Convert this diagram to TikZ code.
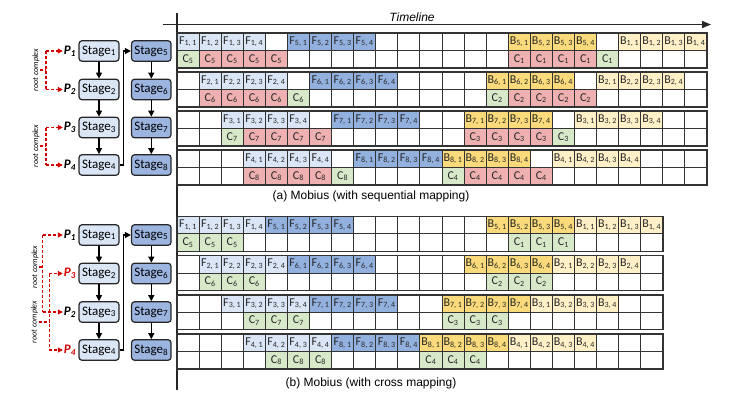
\documentclass[tikz,border=0pt]{standalone}
\usepackage{fontspec}
\setmainfont{Carlito}
\newfontfamily\arialf{Liberation Sans}
\usetikzlibrary{arrows.meta}
\definecolor{fl}{HTML}{DAE5F6}
\definecolor{fd}{HTML}{93B1DF}
\definecolor{bd}{HTML}{FADA7A}
\definecolor{bl}{HTML}{FFF0C8}
\definecolor{cr}{HTML}{EEB0B0}
\definecolor{cg}{HTML}{D7E9C9}
\definecolor{sl}{HTML}{DAE5F6}
\definecolor{sd}{HTML}{9BB4E0}
\definecolor{rc}{HTML}{D40000}
\definecolor{ln}{HTML}{333333}
\def\XO{177}
\def\W{22.08}
\def\H{17.4}
% F/B block of four cells: prefix, top y, start col, letter, k, colour
\newcommand\fblock[6]{%
  \foreach \j in {1,...,4}{%
    \pgfmathtruncatemacro\cc{#3+\j-1}%
    \node[cellbox, fill=#6] (#1F\cc) at ({\XO+\cc*\W},#2) {#4\textsubscript{#5, \j}};
  }}
% C cells: prefix, top y, first col, last col, k, colour
\newcommand\cblock[6]{%
  \foreach \cc in {#3,...,#4}{%
    \node[cellbox, fill=#6] (#1C\cc) at ({\XO+\cc*\W},{#2+\H}) {C\textsubscript{#5}};
  }}
% grid of one group: top y, number of columns, (columns - 1)
\newcommand\gridgroup[3]{%
  \foreach \cc in {1,...,#3}{%
    \draw[gridin] ({\XO+\cc*\W},#1) -- ++(0,{2*\H});
  }
  \draw[gridin] (\XO,{#1+\H}) -- ++({#2*\W},0);
  \draw[gridout] (\XO,#1) rectangle ({\XO+#2*\W},{#1+2*\H});
}
\begin{document}
\begin{tikzpicture}[x=1pt,y=-1pt,
  cellbox/.style={anchor=north west, minimum width=22.08pt, minimum height=17.4pt,
    inner sep=0pt, outer sep=0pt, font=\fontsize{12}{13}\selectfont, text=black!85},
  gridin/.style={draw=ln, line width=0.9pt},
  gridout/.style={draw=ln, line width=1.5pt},
  stagebox/.style={draw=black!85, line width=1.2pt, rounded corners=3pt,
    minimum width=40pt, minimum height=20.5pt, inner sep=0pt,
    font=\fontsize{13}{15}\selectfont},
  plab/.style={font=\fontsize{13}{15}\selectfont\bfseries\itshape, inner sep=1pt},
  rctext/.style={rotate=90, font=\fontsize{8}{9}\selectfont\itshape, inner sep=0.5pt},
  rcline/.style={draw=rc, line width=1.1pt, dash pattern=on 3pt off 2pt},
  rcarrow/.style={rcline, -{Triangle[length=5pt,width=5pt]}},
  sarrow/.style={draw=black, line width=1.1pt, -{Triangle[length=6pt,width=6pt]}},
  axisline/.style={draw=black!85, line width=1.3pt},
  capt/.style={font=\arialf\fontsize{12}{14}\selectfont}
]
\useasboundingbox (0,0) rectangle (750,399);
\fill[white] (0,0) rectangle (750,399);

% ---------- timeline axes ----------
\coordinate (tl0) at (163,24.5);
\coordinate (tl1) at (711,24.5);
\coordinate (ax0) at (177,13);
\coordinate (ax1) at (177,390);
\draw[axisline, -{Triangle[length=9pt,width=7pt]}] (tl0) -- (tl1);
\draw[axisline] (ax0) -- (ax1);
\node[font=\arialf\itshape\fontsize{12}{14}\selectfont] (tltext) at (412,17.5) {Timeline};

% ---------- panel (a) ----------
\fblock{a1}{33}{0}{F}{1}{fl}\fblock{a1}{33}{5}{F}{5}{fd}\fblock{a1}{33}{15}{B}{5}{bd}\fblock{a1}{33}{20}{B}{1}{bl}
\cblock{a1}{33}{0}{0}{5}{cg}\cblock{a1}{33}{1}{4}{5}{cr}\cblock{a1}{33}{15}{18}{1}{cr}\cblock{a1}{33}{19}{19}{1}{cg}
\fblock{a2}{72}{1}{F}{2}{fl}\fblock{a2}{72}{6}{F}{6}{fd}\fblock{a2}{72}{14}{B}{6}{bd}\fblock{a2}{72}{19}{B}{2}{bl}
\cblock{a2}{72}{1}{4}{6}{cr}\cblock{a2}{72}{5}{5}{6}{cg}\cblock{a2}{72}{14}{14}{2}{cg}\cblock{a2}{72}{15}{18}{2}{cr}
\fblock{a3}{111}{2}{F}{3}{fl}\fblock{a3}{111}{7}{F}{7}{fd}\fblock{a3}{111}{13}{B}{7}{bd}\fblock{a3}{111}{18}{B}{3}{bl}
\cblock{a3}{111}{2}{2}{7}{cg}\cblock{a3}{111}{3}{6}{7}{cr}\cblock{a3}{111}{13}{16}{3}{cr}\cblock{a3}{111}{17}{17}{3}{cg}
\fblock{a4}{150}{3}{F}{4}{fl}\fblock{a4}{150}{8}{F}{8}{fd}\fblock{a4}{150}{12}{B}{8}{bd}\fblock{a4}{150}{17}{B}{4}{bl}
\cblock{a4}{150}{3}{6}{8}{cr}\cblock{a4}{150}{7}{7}{8}{cg}\cblock{a4}{150}{12}{12}{4}{cg}\cblock{a4}{150}{13}{16}{4}{cr}
\gridgroup{33}{24}{23}
\gridgroup{72}{24}{23}
\gridgroup{111}{24}{23}
\gridgroup{150}{24}{23}
\node[capt] (capa) at (371,196) {(a) Mobius (with sequential mapping)};

% ---------- panel (b) ----------
\fblock{b1}{216.5}{0}{F}{1}{fl}\fblock{b1}{216.5}{4}{F}{5}{fd}\fblock{b1}{216.5}{14}{B}{5}{bd}\fblock{b1}{216.5}{18}{B}{1}{bl}
\cblock{b1}{216.5}{0}{2}{5}{cg}\cblock{b1}{216.5}{15}{17}{1}{cg}
\fblock{b2}{255.7}{1}{F}{2}{fl}\fblock{b2}{255.7}{5}{F}{6}{fd}\fblock{b2}{255.7}{13}{B}{6}{bd}\fblock{b2}{255.7}{17}{B}{2}{bl}
\cblock{b2}{255.7}{1}{3}{6}{cg}\cblock{b2}{255.7}{14}{16}{2}{cg}
\fblock{b3}{294.9}{2}{F}{3}{fl}\fblock{b3}{294.9}{6}{F}{7}{fd}\fblock{b3}{294.9}{12}{B}{7}{bd}\fblock{b3}{294.9}{16}{B}{3}{bl}
\cblock{b3}{294.9}{3}{5}{7}{cg}\cblock{b3}{294.9}{12}{14}{3}{cg}
\fblock{b4}{334.1}{3}{F}{4}{fl}\fblock{b4}{334.1}{7}{F}{8}{fd}\fblock{b4}{334.1}{11}{B}{8}{bd}\fblock{b4}{334.1}{15}{B}{4}{bl}
\cblock{b4}{334.1}{4}{6}{8}{cg}\cblock{b4}{334.1}{11}{13}{4}{cg}
\gridgroup{216.5}{22}{21}
\gridgroup{255.7}{22}{21}
\gridgroup{294.9}{22}{21}
\gridgroup{334.1}{22}{21}
\node[capt] (capb) at (371,383) {(b) Mobius (with cross mapping)};

% ---------- stages (a) ----------
\node[stagebox, fill=sl] (as1) at (99,51) {Stage\textsubscript{1}};
\node[stagebox, fill=sl] (as2) at (99,89.5) {Stage\textsubscript{2}};
\node[stagebox, fill=sl] (as3) at (99,127.5) {Stage\textsubscript{3}};
\node[stagebox, fill=sl] (as4) at (99,165) {Stage\textsubscript{4}};
\node[stagebox, fill=sd, minimum width=39.5pt] (as5) at (151.3,51) {Stage\textsubscript{5}};
\node[stagebox, fill=sd, minimum width=39.5pt] (as6) at (151.3,89.5) {Stage\textsubscript{6}};
\node[stagebox, fill=sd, minimum width=39.5pt] (as7) at (151.3,127.5) {Stage\textsubscript{7}};
\node[stagebox, fill=sd, minimum width=39.5pt] (as8) at (151.3,165) {Stage\textsubscript{8}};
\draw[sarrow] (as1) -- (as2);
\draw[sarrow] (as2) -- (as3);
\draw[sarrow] (as3) -- (as4);
\draw[sarrow] (as5) -- (as6);
\draw[sarrow] (as6) -- (as7);
\draw[sarrow] (as7) -- (as8);
\draw[sarrow] (as4.east) -- ++(3.5,0) |- (as5.west);

\node[plab] (ap1) at (70,51) {P\textsubscript{1}};
\node[plab] (ap2) at (70,89.5) {P\textsubscript{2}};
\node[plab] (ap3) at (70,127.5) {P\textsubscript{3}};
\node[plab] (ap4) at (70,165) {P\textsubscript{4}};

\coordinate (ar1t) at (46,51);
\coordinate (ar1b) at (46,89.5);
\coordinate (ar1m) at (46,70);
\node[rctext] (arc1) at (36,70) {root complex};
\draw[rcline] (arc1.south) -- (ar1m);
\draw[rcline] (ar1t) -- (ar1b);
\draw[rcarrow] (ar1t) -- (ap1.west);
\draw[rcarrow] (ar1b) -- (ap2.west);
\coordinate (ar2t) at (46,127.5);
\coordinate (ar2b) at (46,165);
\coordinate (ar2m) at (46,146);
\node[rctext] (arc2) at (36,146) {root complex};
\draw[rcline] (arc2.south) -- (ar2m);
\draw[rcline] (ar2t) -- (ar2b);
\draw[rcarrow] (ar2t) -- (ap3.west);
\draw[rcarrow] (ar2b) -- (ap4.west);

% ---------- stages (b) ----------
\node[stagebox, fill=sl] (bs1) at (99,235) {Stage\textsubscript{1}};
\node[stagebox, fill=sl] (bs2) at (99,273.5) {Stage\textsubscript{2}};
\node[stagebox, fill=sl] (bs3) at (99,312) {Stage\textsubscript{3}};
\node[stagebox, fill=sl] (bs4) at (99,350) {Stage\textsubscript{4}};
\node[stagebox, fill=sd, minimum width=39.5pt] (bs5) at (151.3,235) {Stage\textsubscript{5}};
\node[stagebox, fill=sd, minimum width=39.5pt] (bs6) at (151.3,273.5) {Stage\textsubscript{6}};
\node[stagebox, fill=sd, minimum width=39.5pt] (bs7) at (151.3,312) {Stage\textsubscript{7}};
\node[stagebox, fill=sd, minimum width=39.5pt] (bs8) at (151.3,350) {Stage\textsubscript{8}};
\draw[sarrow] (bs1) -- (bs2);
\draw[sarrow] (bs2) -- (bs3);
\draw[sarrow] (bs3) -- (bs4);
\draw[sarrow] (bs5) -- (bs6);
\draw[sarrow] (bs6) -- (bs7);
\draw[sarrow] (bs7) -- (bs8);
\draw[sarrow] (bs4.east) -- ++(3.5,0) |- (bs5.west);

\node[plab] (bp1) at (70,235) {P\textsubscript{1}};
\node[plab, text=rc] (bp3) at (70,273.5) {P\textsubscript{3}};
\node[plab] (bp2) at (70,312) {P\textsubscript{2}};
\node[plab, text=rc] (bp4) at (70,350) {P\textsubscript{4}};

\coordinate (br1t) at (42.7,235);
\coordinate (br1b) at (42.7,312);
\coordinate (br1m) at (42.7,267);
\node[rctext] (brc1) at (35,267) {root complex};
\draw[rcline] (brc1.south) -- (br1m);
\draw[rcline] (br1t) -- (br1b);
\draw[rcarrow] (br1t) -- (bp1.west);
\draw[rcarrow] (br1b) -- (bp2.west);
\coordinate (br2t) at (49.3,273.5);
\coordinate (br2b) at (49.3,350);
\coordinate (br2m) at (49.3,322);
\node[rctext] (brc2) at (34.5,322) {root complex};
\draw[rcline] (brc2.south) -- (br2m);
\draw[rcline] (br2t) -- (br2b);
\draw[rcarrow] (br2t) -- (bp3.west);
\draw[rcarrow] (br2b) -- (bp4.west);
\end{tikzpicture}
\end{document}
